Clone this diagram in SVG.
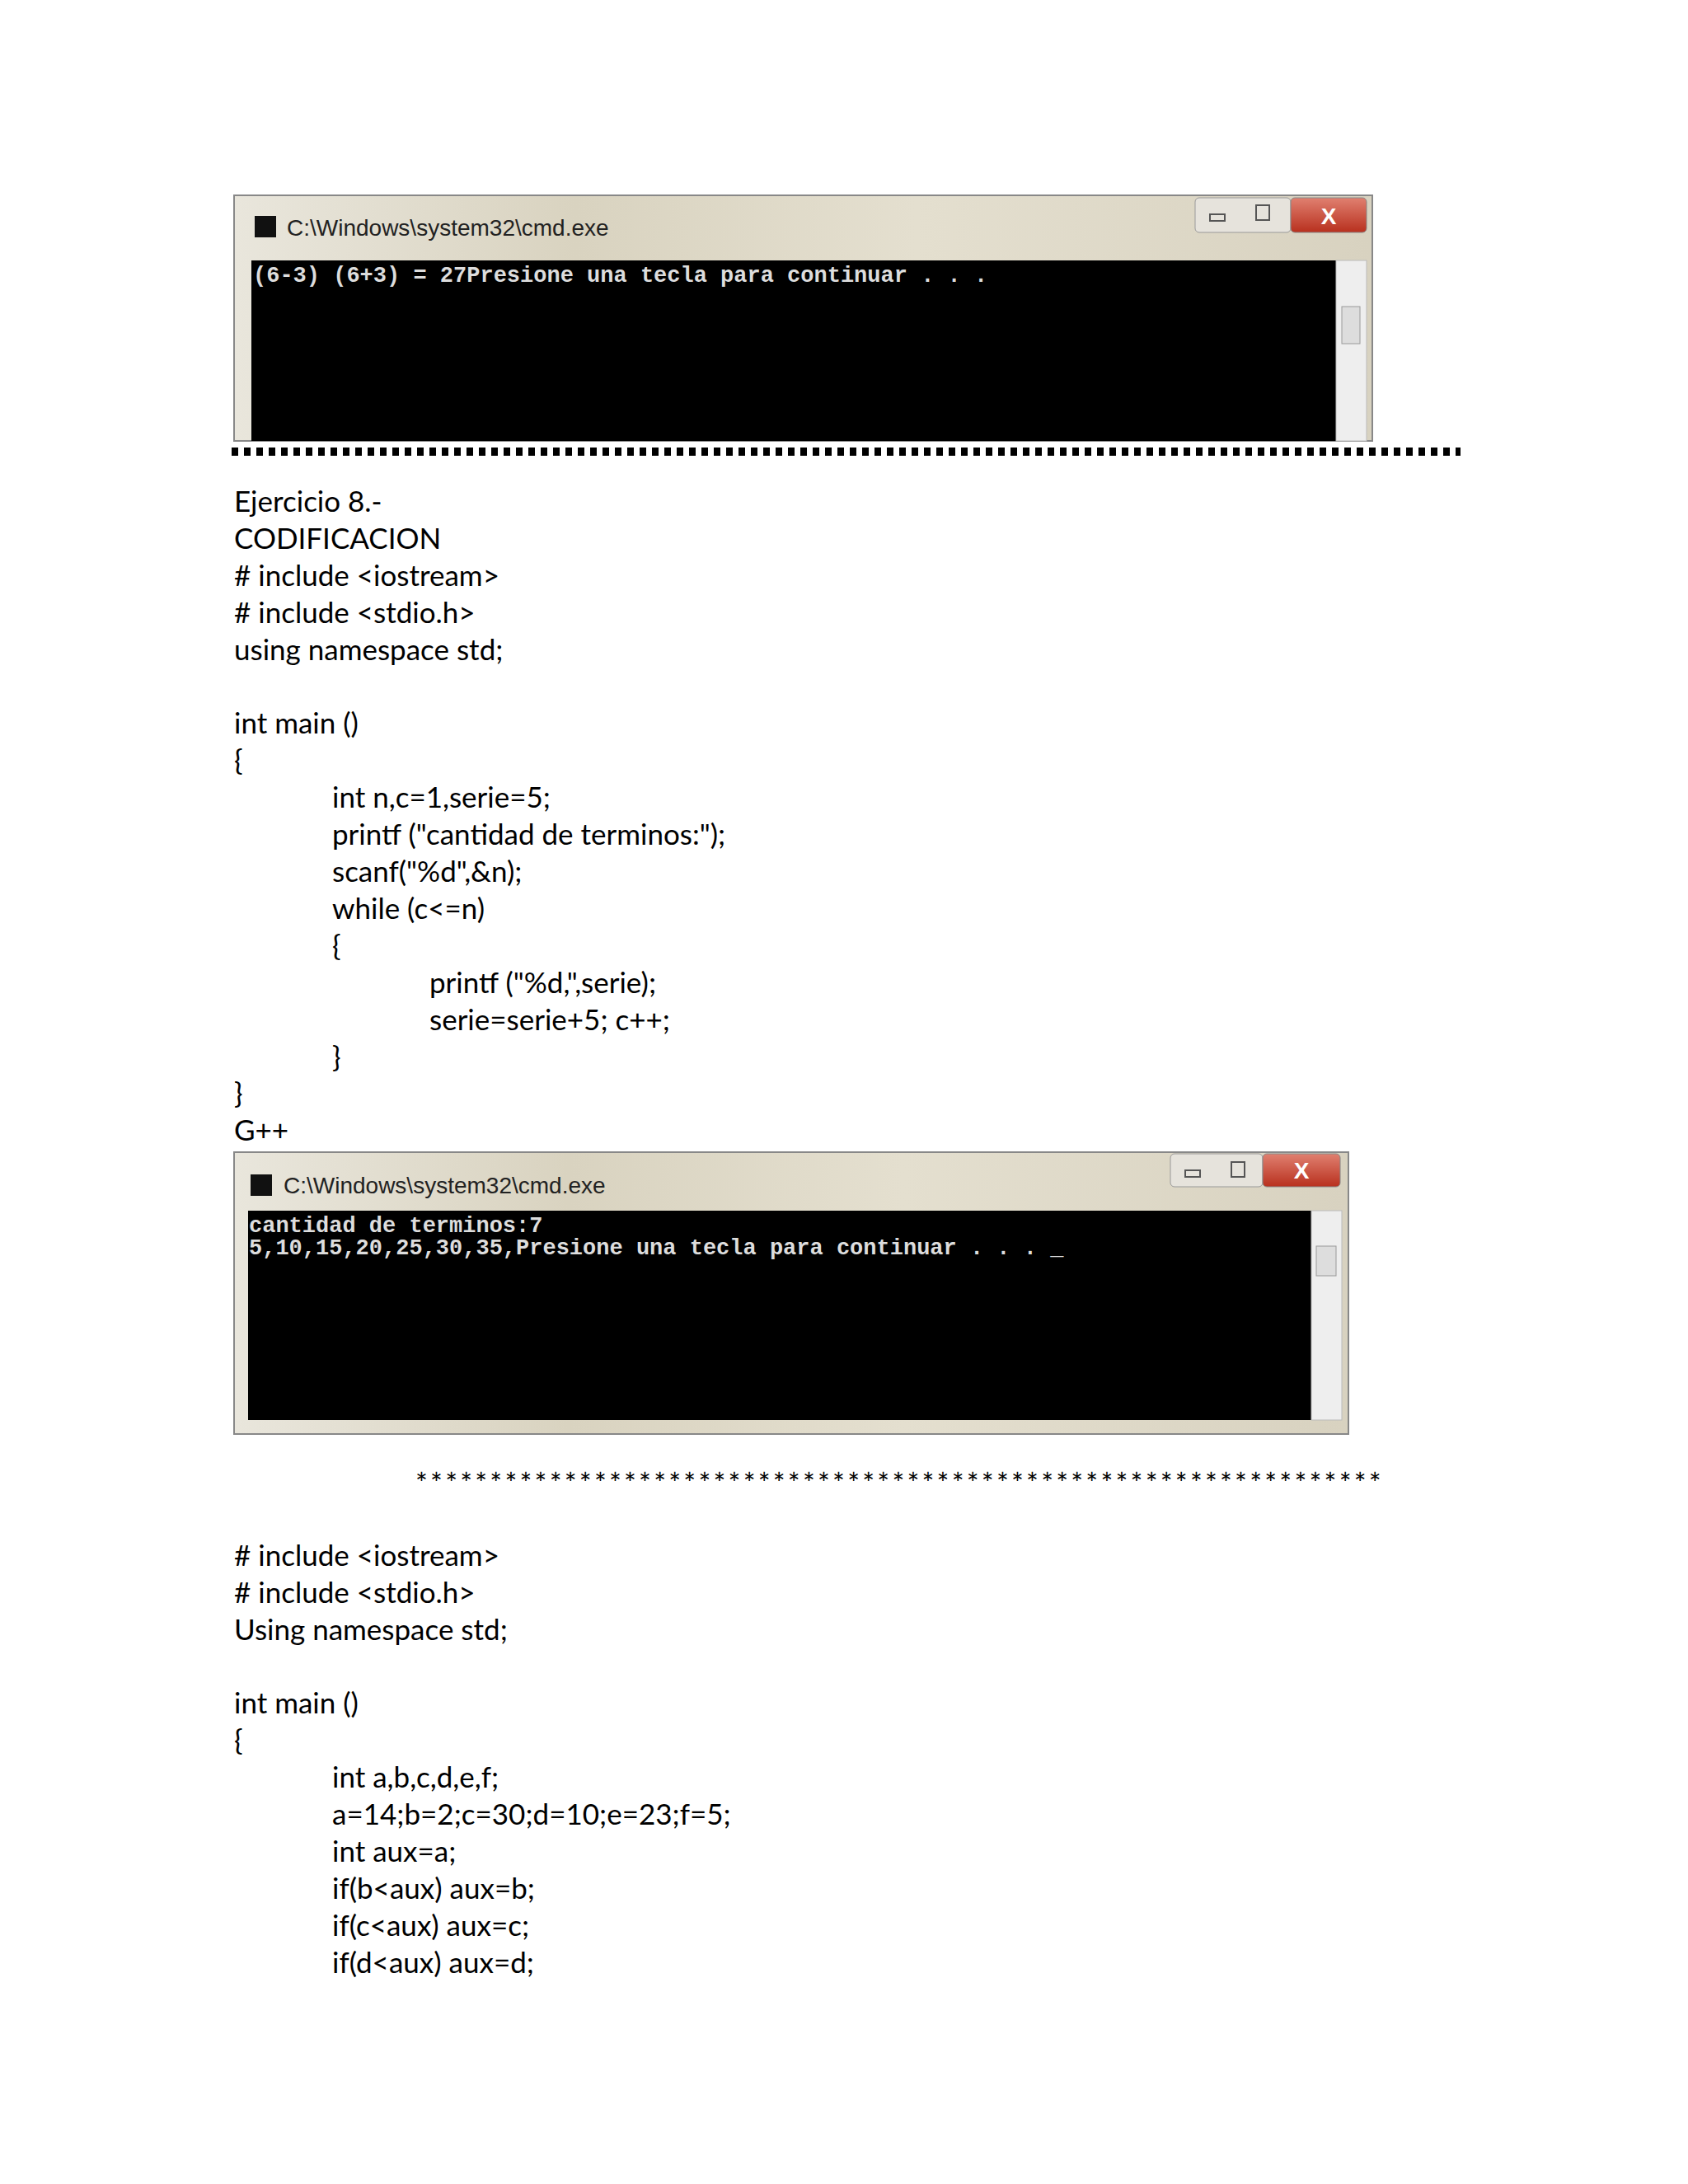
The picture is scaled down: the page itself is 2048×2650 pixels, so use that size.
<svg xmlns="http://www.w3.org/2000/svg" width="2048" height="2650" viewBox="0 0 2048 2650">
<defs>
<linearGradient id="tb" x1="0" y1="0" x2="1" y2="0">
<stop offset="0" stop-color="#e9e6dc"/><stop offset="0.3" stop-color="#d9d3c0"/><stop offset="0.6" stop-color="#e4dfcf"/><stop offset="1" stop-color="#d8d2c0"/>
</linearGradient>
<linearGradient id="cl" x1="0" y1="0" x2="0" y2="1"><stop offset="0" stop-color="#e08070"/><stop offset="1" stop-color="#b8301e"/></linearGradient>
</defs>
<style>
.t{font-family:Lato,"Liberation Sans",sans-serif;font-size:35px;fill:#000}
.c{font-family:"Liberation Mono",monospace;font-weight:bold;fill:#ddd;font-size:27px}
.ti{font-family:"Liberation Sans Narrow","Liberation Sans",sans-serif;font-size:28px;fill:#222}
</style>
<rect width="2048" height="2650" fill="#fff"/>
<g id="win1">
<rect x="284" y="237" width="1381" height="298" fill="url(#tb)" stroke="#888" stroke-width="2"/>
<rect x="305" y="316" width="1316" height="219" fill="#000"/>
<rect x="1621" y="316" width="37" height="219" fill="#eee" stroke="#bbb"/>
<rect x="1628" y="372" width="22" height="45" fill="#ddd" stroke="#999"/>
<rect x="309" y="262" width="26" height="26" fill="#111"/>
<text class="ti" x="348" y="286">C:\Windows\system32\cmd.exe</text>
<rect x="1450" y="240" width="116" height="42" rx="5" fill="#e6e3dc" stroke="#999"/>
<rect x="1566" y="240" width="92" height="42" rx="5" fill="url(#cl)" stroke="#888"/>
<text x="1612" y="272" font-family="Liberation Sans,sans-serif" font-size="28" font-weight="bold" fill="#fff" text-anchor="middle">X</text>
<rect x="1468" y="260" width="18" height="8" fill="none" stroke="#555" stroke-width="2"/>
<rect x="1524" y="249" width="16" height="18" fill="none" stroke="#555" stroke-width="2"/>
<text class="c" x="307" y="342" font-size="28">(6-3) (6+3) = 27Presione una tecla para continuar . . .</text>
</g>
<line x1="281" y1="548" x2="1772" y2="548" stroke="#000" stroke-width="10" stroke-dasharray="8,7"/>
<g id="code1">
<text class="t" x="284" y="621">Ejercicio 8.-</text>
<text class="t" x="284" y="666">CODIFICACION</text>
<text class="t" x="284" y="711"># include &lt;iostream&gt;</text>
<text class="t" x="284" y="756"># include &lt;stdio.h&gt;</text>
<text class="t" x="284" y="801">using namespace std;</text>
<text class="t" x="284" y="890">int main ()</text>
<text class="t" x="284" y="935">{</text>
<text class="t" x="403" y="980">int n,c=1,serie=5;</text>
<text class="t" x="403" y="1025">printf ("cantidad de terminos:");</text>
<text class="t" x="403" y="1070">scanf("%d",&amp;n);</text>
<text class="t" x="403" y="1115">while (c&lt;=n)</text>
<text class="t" x="403" y="1160">{</text>
<text class="t" x="521" y="1205">printf ("%d,",serie);</text>
<text class="t" x="521" y="1250">serie=serie+5; c++;</text>
<text class="t" x="403" y="1295">}</text>
<text class="t" x="284" y="1339">}</text>
<text class="t" x="284" y="1384">G++</text>
</g>
<g id="win2">
<rect x="284" y="1398" width="1352" height="342" fill="url(#tb)" stroke="#888" stroke-width="2"/>
<rect x="301" y="1469" width="1290" height="254" fill="#000"/>
<rect x="1591" y="1469" width="37" height="254" fill="#eee" stroke="#bbb"/>
<rect x="1597" y="1512" width="24" height="36" fill="#ddd" stroke="#999"/>
<rect x="304" y="1425" width="26" height="26" fill="#111"/>
<text class="ti" x="344" y="1448">C:\Windows\system32\cmd.exe</text>
<rect x="1420" y="1400" width="112" height="40" rx="5" fill="#e6e3dc" stroke="#999"/>
<rect x="1532" y="1400" width="94" height="40" rx="5" fill="url(#cl)" stroke="#888"/>
<text x="1579" y="1430" font-family="Liberation Sans,sans-serif" font-size="28" font-weight="bold" fill="#fff" text-anchor="middle">X</text>
<rect x="1438" y="1420" width="18" height="8" fill="none" stroke="#555" stroke-width="2"/>
<rect x="1494" y="1410" width="16" height="18" fill="none" stroke="#555" stroke-width="2"/>
<text class="c" x="302" y="1495">cantidad de terminos:7</text>
<text class="c" x="302" y="1522">5,10,15,20,25,30,35,Presione una tecla para continuar . . . _</text>
</g>
<text class="t" x="504" y="1812" font-size="30" letter-spacing="3.2">*****************************************************************</text>
<g id="code2">
<text class="t" x="284" y="1900"># include &lt;iostream&gt;</text>
<text class="t" x="284" y="1945"># include &lt;stdio.h&gt;</text>
<text class="t" x="284" y="1990">Using namespace std;</text>
<text class="t" x="284" y="2079">int main ()</text>
<text class="t" x="284" y="2124">{</text>
<text class="t" x="403" y="2169">int a,b,c,d,e,f;</text>
<text class="t" x="403" y="2214">a=14;b=2;c=30;d=10;e=23;f=5;</text>
<text class="t" x="403" y="2259">int aux=a;</text>
<text class="t" x="403" y="2304">if(b&lt;aux) aux=b;</text>
<text class="t" x="403" y="2349">if(c&lt;aux) aux=c;</text>
<text class="t" x="403" y="2394">if(d&lt;aux) aux=d;</text>
</g>
</svg>
